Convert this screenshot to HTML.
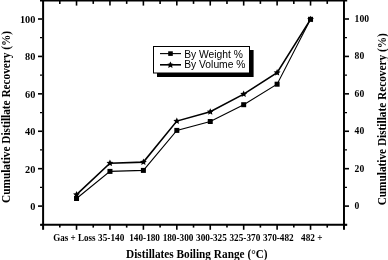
<!DOCTYPE html>
<html><head><meta charset="utf-8"><style>
html,body{margin:0;padding:0;background:#fff;}
svg{display:block;}
.t{font-family:"Liberation Serif",serif;font-weight:bold;font-size:9.0px;fill:#000;}
.ty{font-family:"Liberation Serif",serif;font-weight:bold;font-size:10.3px;fill:#000;}
.tr{font-family:"Liberation Serif",serif;font-weight:bold;font-size:9.6px;fill:#000;}
.ti{font-family:"Liberation Serif",serif;font-weight:bold;font-size:11.3px;fill:#000;}
.lg{font-family:"Liberation Sans",Arial,sans-serif;font-size:10.3px;fill:#000;}
</style></head><body>
<svg width="388" height="260" viewBox="0 0 388 260">
<line x1="40" y1="0.7" x2="347.2" y2="0.7" stroke="#000" stroke-width="1.8"/>
<line x1="40.3" y1="224.8" x2="347.2" y2="224.8" stroke="#000" stroke-width="2"/>
<line x1="43.1" y1="0" x2="43.1" y2="229.8" stroke="#000" stroke-width="2"/>
<line x1="343.97" y1="0" x2="343.97" y2="229.8" stroke="#000" stroke-width="2"/>
<line x1="76.53" y1="225" x2="76.53" y2="229.8" stroke="#000" stroke-width="1.6"/>
<line x1="76.53" y1="0" x2="76.53" y2="5.6" stroke="#000" stroke-width="1.6"/>
<line x1="109.96" y1="225" x2="109.96" y2="229.8" stroke="#000" stroke-width="1.6"/>
<line x1="109.96" y1="0" x2="109.96" y2="5.6" stroke="#000" stroke-width="1.6"/>
<line x1="143.39" y1="225" x2="143.39" y2="229.8" stroke="#000" stroke-width="1.6"/>
<line x1="143.39" y1="0" x2="143.39" y2="5.6" stroke="#000" stroke-width="1.6"/>
<line x1="176.82" y1="225" x2="176.82" y2="229.8" stroke="#000" stroke-width="1.6"/>
<line x1="176.82" y1="0" x2="176.82" y2="5.6" stroke="#000" stroke-width="1.6"/>
<line x1="210.25" y1="225" x2="210.25" y2="229.8" stroke="#000" stroke-width="1.6"/>
<line x1="210.25" y1="0" x2="210.25" y2="5.6" stroke="#000" stroke-width="1.6"/>
<line x1="243.68" y1="225" x2="243.68" y2="229.8" stroke="#000" stroke-width="1.6"/>
<line x1="243.68" y1="0" x2="243.68" y2="5.6" stroke="#000" stroke-width="1.6"/>
<line x1="277.11" y1="225" x2="277.11" y2="229.8" stroke="#000" stroke-width="1.6"/>
<line x1="277.11" y1="0" x2="277.11" y2="5.6" stroke="#000" stroke-width="1.6"/>
<line x1="310.54" y1="225" x2="310.54" y2="229.8" stroke="#000" stroke-width="1.6"/>
<line x1="310.54" y1="0" x2="310.54" y2="5.6" stroke="#000" stroke-width="1.6"/>
<line x1="59.81" y1="225" x2="59.81" y2="227.6" stroke="#000" stroke-width="1.6"/>
<line x1="59.81" y1="0" x2="59.81" y2="3.9" stroke="#000" stroke-width="1.6"/>
<line x1="93.25" y1="225" x2="93.25" y2="227.6" stroke="#000" stroke-width="1.6"/>
<line x1="93.25" y1="0" x2="93.25" y2="3.9" stroke="#000" stroke-width="1.6"/>
<line x1="126.68" y1="225" x2="126.68" y2="227.6" stroke="#000" stroke-width="1.6"/>
<line x1="126.68" y1="0" x2="126.68" y2="3.9" stroke="#000" stroke-width="1.6"/>
<line x1="160.10" y1="225" x2="160.10" y2="227.6" stroke="#000" stroke-width="1.6"/>
<line x1="160.10" y1="0" x2="160.10" y2="3.9" stroke="#000" stroke-width="1.6"/>
<line x1="193.53" y1="225" x2="193.53" y2="227.6" stroke="#000" stroke-width="1.6"/>
<line x1="193.53" y1="0" x2="193.53" y2="3.9" stroke="#000" stroke-width="1.6"/>
<line x1="226.97" y1="225" x2="226.97" y2="227.6" stroke="#000" stroke-width="1.6"/>
<line x1="226.97" y1="0" x2="226.97" y2="3.9" stroke="#000" stroke-width="1.6"/>
<line x1="260.39" y1="225" x2="260.39" y2="227.6" stroke="#000" stroke-width="1.6"/>
<line x1="260.39" y1="0" x2="260.39" y2="3.9" stroke="#000" stroke-width="1.6"/>
<line x1="293.82" y1="225" x2="293.82" y2="227.6" stroke="#000" stroke-width="1.6"/>
<line x1="293.82" y1="0" x2="293.82" y2="3.9" stroke="#000" stroke-width="1.6"/>
<line x1="327.25" y1="225" x2="327.25" y2="227.6" stroke="#000" stroke-width="1.6"/>
<line x1="327.25" y1="0" x2="327.25" y2="3.9" stroke="#000" stroke-width="1.6"/>
<line x1="38" y1="206.10" x2="42" y2="206.10" stroke="#000" stroke-width="1.6"/>
<line x1="345" y1="206.10" x2="349" y2="206.10" stroke="#000" stroke-width="1.6"/>
<line x1="38" y1="168.68" x2="42" y2="168.68" stroke="#000" stroke-width="1.6"/>
<line x1="345" y1="168.68" x2="349" y2="168.68" stroke="#000" stroke-width="1.6"/>
<line x1="38" y1="131.26" x2="42" y2="131.26" stroke="#000" stroke-width="1.6"/>
<line x1="345" y1="131.26" x2="349" y2="131.26" stroke="#000" stroke-width="1.6"/>
<line x1="38" y1="93.84" x2="42" y2="93.84" stroke="#000" stroke-width="1.6"/>
<line x1="345" y1="93.84" x2="349" y2="93.84" stroke="#000" stroke-width="1.6"/>
<line x1="38" y1="56.42" x2="42" y2="56.42" stroke="#000" stroke-width="1.6"/>
<line x1="345" y1="56.42" x2="349" y2="56.42" stroke="#000" stroke-width="1.6"/>
<line x1="38" y1="19.00" x2="42" y2="19.00" stroke="#000" stroke-width="1.6"/>
<line x1="345" y1="19.00" x2="349" y2="19.00" stroke="#000" stroke-width="1.6"/>
<line x1="40" y1="224.81" x2="42" y2="224.81" stroke="#000" stroke-width="1.3"/>
<line x1="345" y1="224.81" x2="347" y2="224.81" stroke="#000" stroke-width="1.3"/>
<line x1="40" y1="187.39" x2="42" y2="187.39" stroke="#000" stroke-width="1.3"/>
<line x1="345" y1="187.39" x2="347" y2="187.39" stroke="#000" stroke-width="1.3"/>
<line x1="40" y1="149.97" x2="42" y2="149.97" stroke="#000" stroke-width="1.3"/>
<line x1="345" y1="149.97" x2="347" y2="149.97" stroke="#000" stroke-width="1.3"/>
<line x1="40" y1="112.55" x2="42" y2="112.55" stroke="#000" stroke-width="1.3"/>
<line x1="345" y1="112.55" x2="347" y2="112.55" stroke="#000" stroke-width="1.3"/>
<line x1="40" y1="75.13" x2="42" y2="75.13" stroke="#000" stroke-width="1.3"/>
<line x1="345" y1="75.13" x2="347" y2="75.13" stroke="#000" stroke-width="1.3"/>
<line x1="40" y1="37.71" x2="42" y2="37.71" stroke="#000" stroke-width="1.3"/>
<line x1="345" y1="37.71" x2="347" y2="37.71" stroke="#000" stroke-width="1.3"/>
<text x="35.4" y="210.00" text-anchor="end" class="ty">0</text>
<text x="354.6" y="209.04" class="tr">0</text>
<text x="35.4" y="172.58" text-anchor="end" class="ty">20</text>
<text x="354.6" y="171.62" class="tr">20</text>
<text x="35.4" y="135.16" text-anchor="end" class="ty">40</text>
<text x="354.6" y="134.20" class="tr">40</text>
<text x="35.4" y="97.74" text-anchor="end" class="ty">60</text>
<text x="354.6" y="96.78" class="tr">60</text>
<text x="35.4" y="60.32" text-anchor="end" class="ty">80</text>
<text x="354.6" y="59.36" class="tr">80</text>
<text x="35.4" y="22.90" text-anchor="end" class="ty">100</text>
<text x="354.6" y="21.94" class="tr">100</text>
<text transform="translate(74.40,241.0) scale(1,1.04)" text-anchor="middle" class="t" style="font-size:9.0px">Gas + Loss</text>
<text transform="translate(111.16,241.0) scale(1,1.04)" text-anchor="middle" class="t" style="font-size:9.25px">35-140</text>
<text transform="translate(144.59,241.0) scale(1,1.04)" text-anchor="middle" class="t" style="font-size:9.25px">140-180</text>
<text transform="translate(178.02,241.0) scale(1,1.04)" text-anchor="middle" class="t" style="font-size:9.25px">180-300</text>
<text transform="translate(211.45,241.0) scale(1,1.04)" text-anchor="middle" class="t" style="font-size:9.25px">300-325</text>
<text transform="translate(244.88,241.0) scale(1,1.04)" text-anchor="middle" class="t" style="font-size:9.25px">325-370</text>
<text transform="translate(278.31,241.0) scale(1,1.04)" text-anchor="middle" class="t" style="font-size:9.25px">370-482</text>
<text transform="translate(311.74,241.0) scale(1,1.04)" text-anchor="middle" class="t" style="font-size:9.25px">482 +</text>
<text transform="translate(196.8,257.7) scale(1,1.11)" text-anchor="middle" class="ti">Distillates Boiling Range (°C)</text>
<text transform="translate(10.3,116.9) rotate(-90) scale(1,1.11)" text-anchor="middle" class="ti">Cumulative Distillate Recovery (%)</text>
<text transform="translate(385.8,119.3) rotate(-90) scale(1,1.11)" text-anchor="middle" class="ti">Cumulative Distillate Recovery (%)</text>
<polyline points="76.53,198.50 109.96,171.40 143.39,170.40 176.82,130.40 210.25,121.50 243.68,104.70 277.11,84.20 310.54,19.30" fill="none" stroke="#000" stroke-width="1.1"/>
<polyline points="76.53,194.70 109.96,163.20 143.39,162.10 176.82,121.10 210.25,111.80 243.68,94.10 277.11,72.70 310.54,19.30" fill="none" stroke="#000" stroke-width="1.6"/>
<rect x="74.03" y="196.00" width="5" height="5" fill="#000"/>
<rect x="107.46" y="168.90" width="5" height="5" fill="#000"/>
<rect x="140.89" y="167.90" width="5" height="5" fill="#000"/>
<rect x="174.32" y="127.90" width="5" height="5" fill="#000"/>
<rect x="207.75" y="119.00" width="5" height="5" fill="#000"/>
<rect x="241.18" y="102.20" width="5" height="5" fill="#000"/>
<rect x="274.61" y="81.70" width="5" height="5" fill="#000"/>
<rect x="308.04" y="16.80" width="5" height="5" fill="#000"/>
<polygon points="76.53,191.10 77.56,193.28 79.95,193.59 78.19,195.24 78.65,197.61 76.53,196.45 74.41,197.61 74.87,195.24 73.11,193.59 75.50,193.28" fill="#000"/>
<polygon points="109.96,159.60 110.99,161.78 113.38,162.09 111.62,163.74 112.08,166.11 109.96,164.95 107.84,166.11 108.30,163.74 106.54,162.09 108.93,161.78" fill="#000"/>
<polygon points="143.39,158.50 144.42,160.68 146.81,160.99 145.05,162.64 145.51,165.01 143.39,163.85 141.27,165.01 141.73,162.64 139.97,160.99 142.36,160.68" fill="#000"/>
<polygon points="176.82,117.50 177.85,119.68 180.24,119.99 178.48,121.64 178.94,124.01 176.82,122.85 174.70,124.01 175.16,121.64 173.40,119.99 175.79,119.68" fill="#000"/>
<polygon points="210.25,108.20 211.28,110.38 213.67,110.69 211.91,112.34 212.37,114.71 210.25,113.55 208.13,114.71 208.59,112.34 206.83,110.69 209.22,110.38" fill="#000"/>
<polygon points="243.68,90.50 244.71,92.68 247.10,92.99 245.34,94.64 245.80,97.01 243.68,95.85 241.56,97.01 242.02,94.64 240.26,92.99 242.65,92.68" fill="#000"/>
<polygon points="277.11,69.10 278.14,71.28 280.53,71.59 278.77,73.24 279.23,75.61 277.11,74.45 274.99,75.61 275.45,73.24 273.69,71.59 276.08,71.28" fill="#000"/>
<polygon points="310.54,15.70 311.57,17.88 313.96,18.19 312.20,19.84 312.66,22.21 310.54,21.05 308.42,22.21 308.88,19.84 307.12,18.19 309.51,17.88" fill="#000"/>
<rect x="157" y="50" width="96.6" height="27" fill="#000"/>
<rect x="153.5" y="46.5" width="96" height="26.5" fill="#fff" stroke="#000" stroke-width="1"/>
<line x1="160" y1="53.6" x2="181" y2="53.6" stroke="#000" stroke-width="1.1"/>
<rect x="168.2" y="51.3" width="4.6" height="4.6" fill="#000"/>
<line x1="160" y1="64.8" x2="181" y2="64.8" stroke="#000" stroke-width="1.6"/>
<polygon points="170.40,61.40 171.43,63.58 173.82,63.89 172.06,65.54 172.52,67.91 170.40,66.75 168.28,67.91 168.74,65.54 166.98,63.89 169.37,63.58" fill="#000"/>
<text x="184.2" y="57.7" class="lg">By Weight %</text>
<text x="184.2" y="68.2" class="lg">By Volume %</text>
</svg>
</body></html>
